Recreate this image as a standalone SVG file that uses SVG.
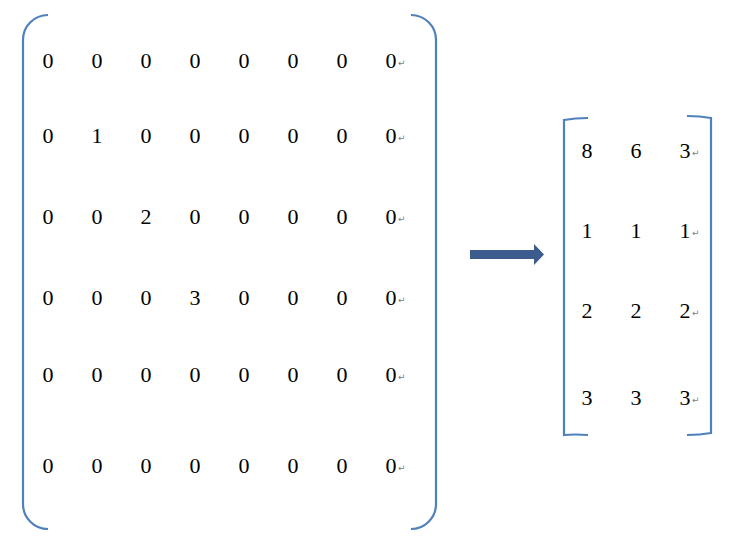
<svg xmlns="http://www.w3.org/2000/svg" width="736" height="545" viewBox="0 0 736 545">
<style>
.d{font-family:"Liberation Serif","Times New Roman",serif;font-size:22px;fill:#000;text-anchor:middle}
.r{font-family:"DejaVu Sans",sans-serif;font-size:9px;fill:#808080}
.br{fill:none;stroke:#4F81BD;stroke-width:2.2}
</style>
<rect width="736" height="545" fill="#fff"/>
<g id="left-matrix">
<path class="br" d="M48,15 A25,25 0 0 0 23,40 L23,504 A25,25 0 0 0 48,529"/>
<path class="br" d="M411,15 A25,25 0 0 1 436,40 L436,504 A25,25 0 0 1 411,529"/>
<g class="d">
<text x="48" y="68">0</text><text x="97" y="68">0</text><text x="146" y="68">0</text><text x="195" y="68">0</text><text x="244" y="68">0</text><text x="293" y="68">0</text><text x="342" y="68">0</text><text x="391" y="68">0</text>
<text x="48" y="143">0</text><text x="97" y="143">1</text><text x="146" y="143">0</text><text x="195" y="143">0</text><text x="244" y="143">0</text><text x="293" y="143">0</text><text x="342" y="143">0</text><text x="391" y="143">0</text>
<text x="48" y="224">0</text><text x="97" y="224">0</text><text x="146" y="224">2</text><text x="195" y="224">0</text><text x="244" y="224">0</text><text x="293" y="224">0</text><text x="342" y="224">0</text><text x="391" y="224">0</text>
<text x="48" y="305">0</text><text x="97" y="305">0</text><text x="146" y="305">0</text><text x="195" y="305">3</text><text x="244" y="305">0</text><text x="293" y="305">0</text><text x="342" y="305">0</text><text x="391" y="305">0</text>
<text x="48" y="382">0</text><text x="97" y="382">0</text><text x="146" y="382">0</text><text x="195" y="382">0</text><text x="244" y="382">0</text><text x="293" y="382">0</text><text x="342" y="382">0</text><text x="391" y="382">0</text>
<text x="48" y="473">0</text><text x="97" y="473">0</text><text x="146" y="473">0</text><text x="195" y="473">0</text><text x="244" y="473">0</text><text x="293" y="473">0</text><text x="342" y="473">0</text><text x="391" y="473">0</text>
</g>
<g class="r">
<text x="398" y="66">↵</text><text x="398" y="141">↵</text><text x="398" y="222">↵</text><text x="398" y="303">↵</text><text x="398" y="380">↵</text><text x="398" y="471">↵</text>
</g>
</g>
<g id="connectors">
<path d="M470,250 L534,250 L534,244 L544,254.5 L534,265 L534,259 L470,259 Z" fill="#3B5C8C"/>
</g>
<g id="right-matrix">
<path class="br" d="M588,118 Q575,118 564,120 L564,435 Q575,434 588,435"/>
<path class="br" d="M687,116 Q700,116 711,118 L711,433 Q700,435 687,435"/>
<g class="d">
<text x="587" y="158">8</text><text x="636" y="158">6</text><text x="685" y="158">3</text>
<text x="587" y="238">1</text><text x="636" y="238">1</text><text x="685" y="238">1</text>
<text x="587" y="318">2</text><text x="636" y="318">2</text><text x="685" y="318">2</text>
<text x="587" y="405">3</text><text x="636" y="405">3</text><text x="685" y="405">3</text>
</g>
<g class="r">
<text x="692" y="156">↵</text><text x="692" y="236">↵</text><text x="692" y="316">↵</text><text x="692" y="403">↵</text>
</g>
</g>
</svg>
